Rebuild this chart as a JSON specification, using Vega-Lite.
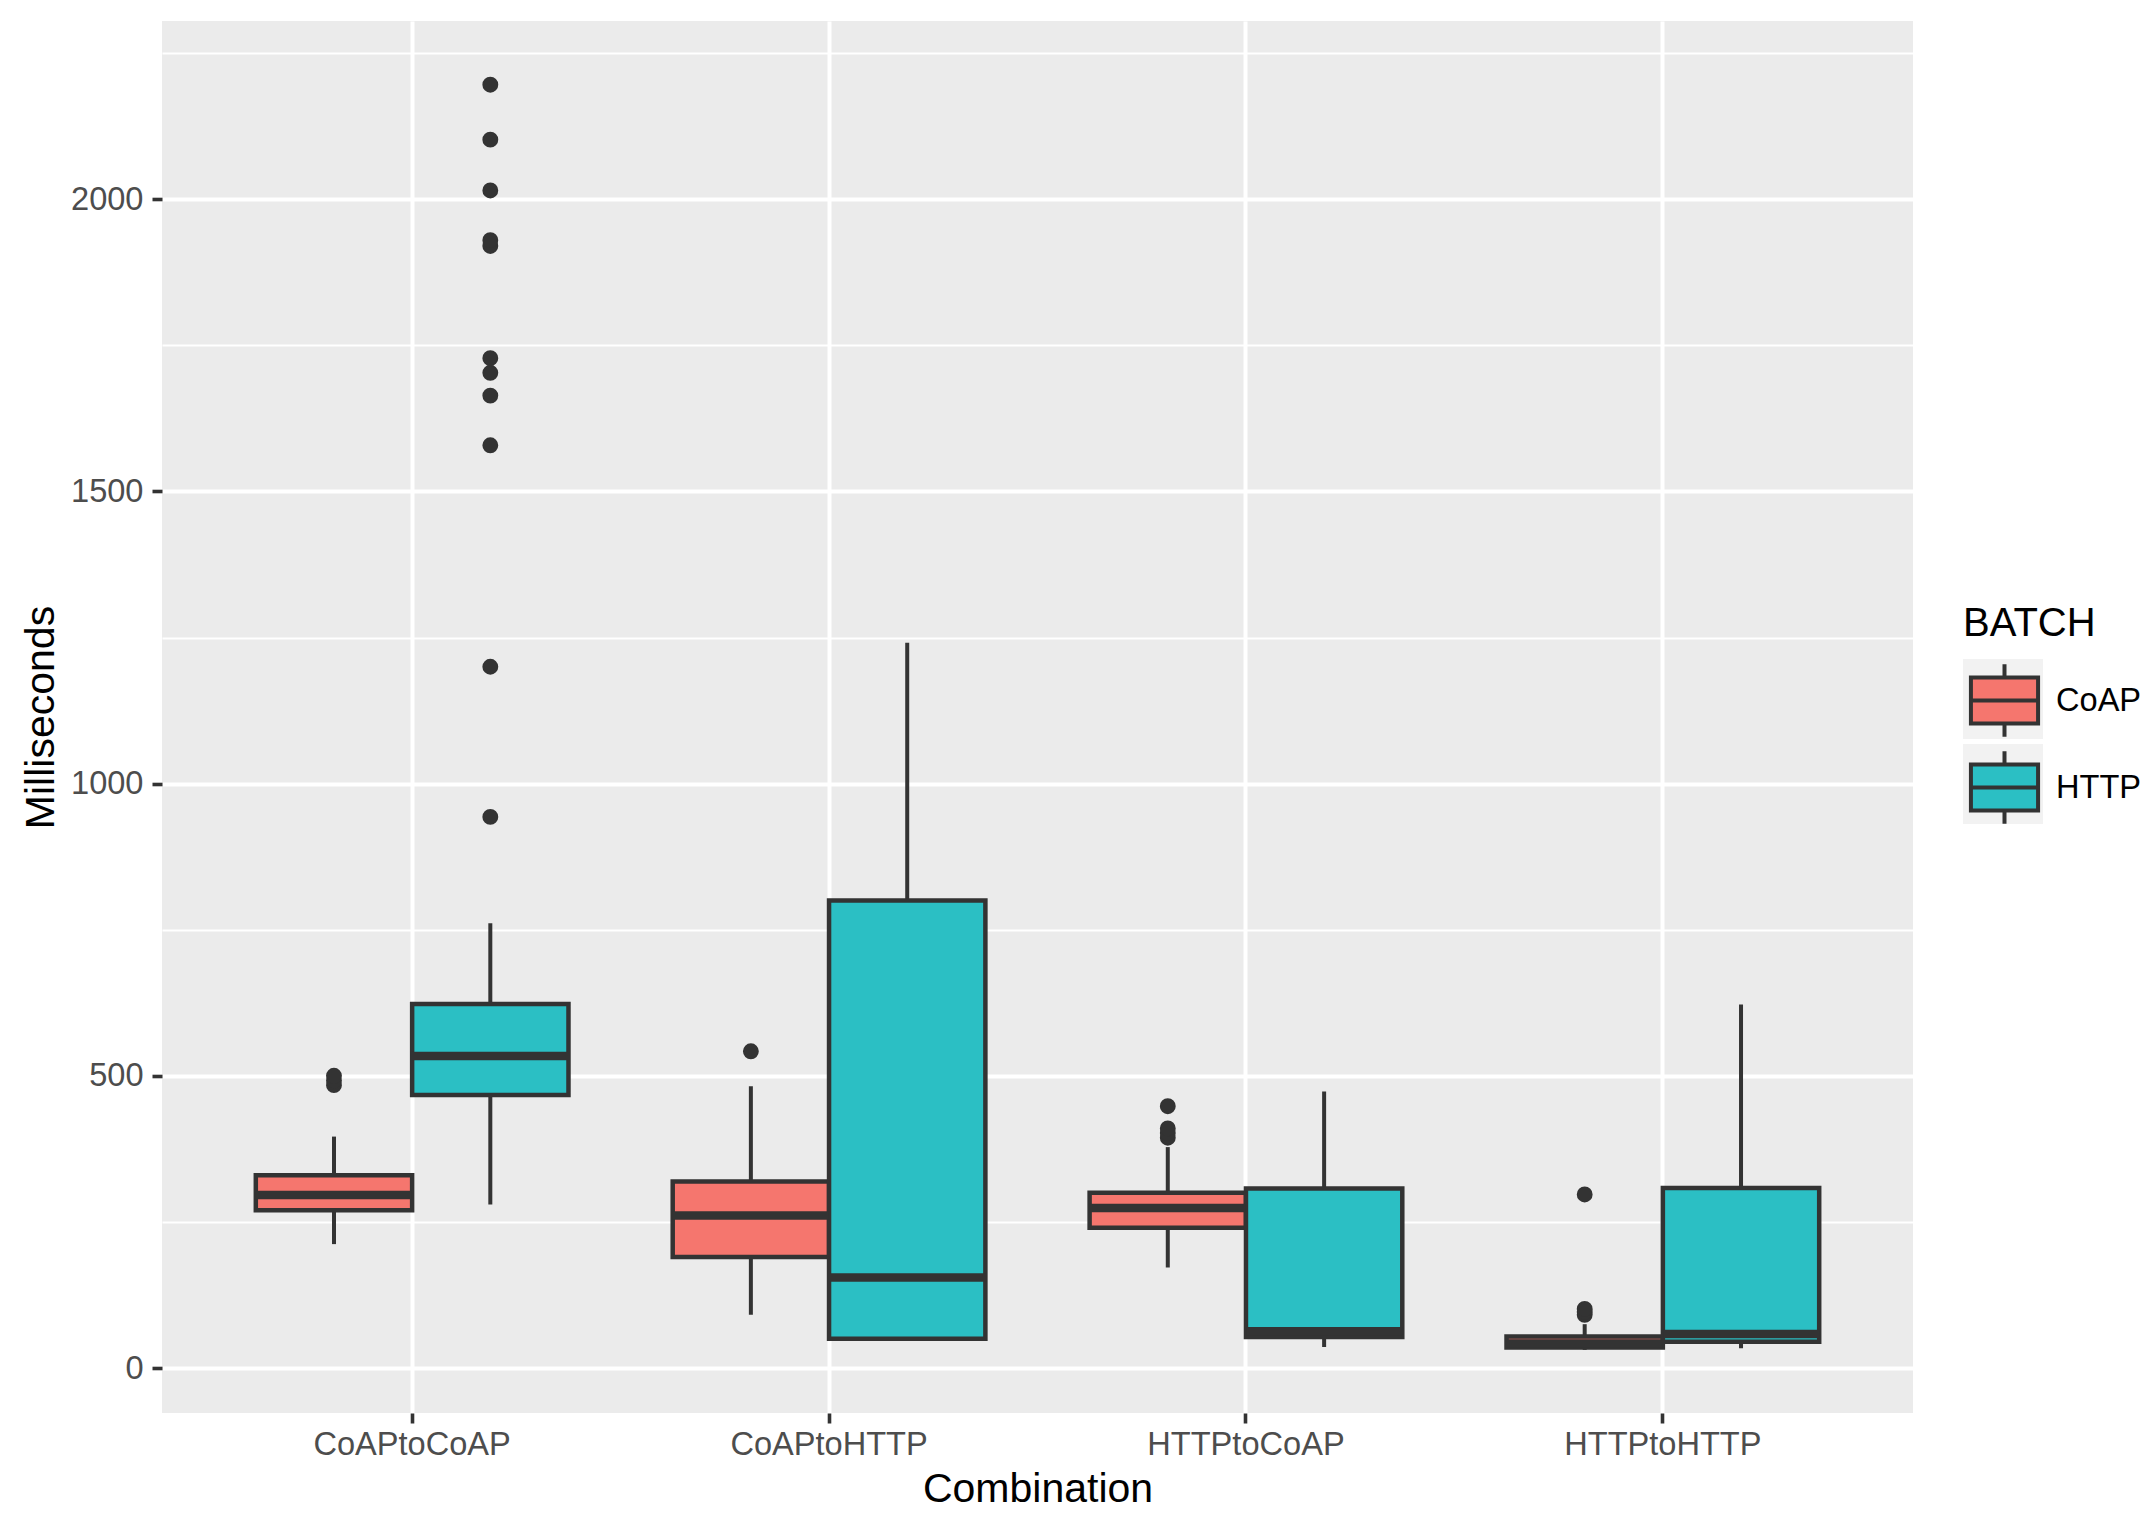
{
  "$schema": "https://vega.github.io/schema/vega-lite/v6.json",
  "width": 1751,
  "height": 1392,
  "autosize": {"type": "none"},
  "padding": {"left": 162, "top": 21, "right": 242, "bottom": 103},
  "background": "white",
  "config": {
    "font": "Liberation Sans",
    "view": {"fill": "#EBEBEB", "stroke": null}
  },
  "datasets": {
    "stats": [
      {"combination": "CoAPtoCoAP", "batch": "CoAP", "key": "CoAP", "lower": 212, "q1": 270, "median": 296, "q3": 330, "upper": 396},
      {"combination": "CoAPtoCoAP", "batch": "HTTP", "key": "HTTP", "lower": 280, "q1": 467, "median": 534, "q3": 623, "upper": 761},
      {"combination": "CoAPtoHTTP", "batch": "CoAP", "key": "CoAP", "lower": 91, "q1": 190, "median": 261, "q3": 319, "upper": 482},
      {"combination": "CoAPtoHTTP", "batch": "HTTP", "key": "HTTP", "lower": 48, "q1": 50, "median": 155, "q3": 800, "upper": 1241},
      {"combination": "HTTPtoCoAP", "batch": "CoAP", "key": "CoAP", "lower": 172, "q1": 240, "median": 274, "q3": 300, "upper": 378},
      {"combination": "HTTPtoCoAP", "batch": "HTTP", "key": "HTTP", "lower": 36, "q1": 53, "median": 63, "q3": 307, "upper": 473},
      {"combination": "HTTPtoHTTP", "batch": "CoAP", "key": "CoAP", "lower": 31, "q1": 35, "median": 42, "q3": 54, "upper": 75},
      {"combination": "HTTPtoHTTP", "batch": "HTTP", "key": "HTTP", "lower": 34, "q1": 45, "median": 58, "q3": 308, "upper": 622}
    ],
    "outliers": [
      {"combination": "CoAPtoCoAP", "batch": "CoAP", "value": 484},
      {"combination": "CoAPtoCoAP", "batch": "CoAP", "value": 492},
      {"combination": "CoAPtoCoAP", "batch": "CoAP", "value": 500},
      {"combination": "CoAPtoCoAP", "batch": "HTTP", "value": 943},
      {"combination": "CoAPtoCoAP", "batch": "HTTP", "value": 1200},
      {"combination": "CoAPtoCoAP", "batch": "HTTP", "value": 1579},
      {"combination": "CoAPtoCoAP", "batch": "HTTP", "value": 1664},
      {"combination": "CoAPtoCoAP", "batch": "HTTP", "value": 1703},
      {"combination": "CoAPtoCoAP", "batch": "HTTP", "value": 1728},
      {"combination": "CoAPtoCoAP", "batch": "HTTP", "value": 1920},
      {"combination": "CoAPtoCoAP", "batch": "HTTP", "value": 1930},
      {"combination": "CoAPtoCoAP", "batch": "HTTP", "value": 2015},
      {"combination": "CoAPtoCoAP", "batch": "HTTP", "value": 2102},
      {"combination": "CoAPtoCoAP", "batch": "HTTP", "value": 2196},
      {"combination": "CoAPtoHTTP", "batch": "CoAP", "value": 542},
      {"combination": "HTTPtoCoAP", "batch": "CoAP", "value": 394},
      {"combination": "HTTPtoCoAP", "batch": "CoAP", "value": 402},
      {"combination": "HTTPtoCoAP", "batch": "CoAP", "value": 410},
      {"combination": "HTTPtoCoAP", "batch": "CoAP", "value": 448},
      {"combination": "HTTPtoHTTP", "batch": "CoAP", "value": 91},
      {"combination": "HTTPtoHTTP", "batch": "CoAP", "value": 96},
      {"combination": "HTTPtoHTTP", "batch": "CoAP", "value": 101},
      {"combination": "HTTPtoHTTP", "batch": "CoAP", "value": 297}
    ]
  },
  "encoding": {
    "x": {
      "field": "combination",
      "type": "nominal",
      "sort": ["CoAPtoCoAP", "CoAPtoHTTP", "HTTPtoCoAP", "HTTPtoHTTP"],
      "scale": {"paddingInner": 0.25, "paddingOuter": 0.225},
      "axis": {
        "title": "Combination",
        "titleFontSize": 41,
        "titleFontWeight": "normal",
        "titleColor": "black",
        "titlePadding": 8,
        "labelFontSize": 32.6,
        "labelColor": "#4D4D4D",
        "labelAngle": 0,
        "labelPadding": 5.5,
        "labelLimit": 0,
        "tickColor": "#333333",
        "tickSize": 10,
        "tickWidth": 3.6,
        "domain": false,
        "grid": true,
        "gridColor": "white",
        "gridWidth": 4,
        "bandPosition": 0.5
      }
    },
    "xOffset": {
      "field": "batch",
      "type": "nominal",
      "sort": ["CoAP", "HTTP"],
      "scale": {"paddingInner": 0, "paddingOuter": 0}
    }
  },
  "layer": [
    {
      "data": {"name": "stats"},
      "mark": {"type": "point", "filled": true, "opacity": 0},
      "encoding": {
        "y": {
          "field": "median",
          "type": "quantitative",
          "axis": {
            "orient": "right",
            "values": [250, 750, 1250, 1750, 2250],
            "grid": true,
            "gridColor": "white",
            "gridWidth": 2,
            "labels": false,
            "ticks": false,
            "domain": false,
            "title": null
          }
        },
        "color": {
          "field": "key",
          "type": "nominal",
          "scale": {"range": ["#F2F2F2", "#F2F2F2"]},
          "legend": {
            "zindex": 0,
            "title": "BATCH",
            "orient": "none",
            "legendX": 1801,
            "legendY": 583,
            "symbolType": "square",
            "symbolSize": 6400,
            "symbolStrokeWidth": 0,
            "symbolOpacity": 1,
            "labelFontSize": 32.6,
            "labelColor": "transparent",
            "labelOffset": 14,
            "rowPadding": 5,
            "titleFontSize": 40,
            "titleFontWeight": "normal",
            "titleColor": "transparent",
            "titlePadding": 15
          }
        }
      }
    },
    {
      "data": {"name": "stats"},
      "mark": {"type": "rule", "color": "#333333", "strokeWidth": 4},
      "encoding": {
        "y": {
          "field": "lower",
          "type": "quantitative",
          "scale": {"domain": [-77, 2305], "nice": false, "zero": false},
          "axis": {
            "title": "Milliseconds",
            "titleFontSize": 41,
            "titleFontWeight": "normal",
            "titleColor": "black",
            "titlePadding": 8,
            "values": [0, 500, 1000, 1500, 2000],
            "format": "d",
            "labelFontSize": 32.6,
            "labelColor": "#4D4D4D",
            "labelPadding": 9,
            "tickColor": "#333333",
            "tickSize": 10,
            "tickWidth": 3.6,
            "domain": false,
            "grid": true,
            "gridColor": "white",
            "gridWidth": 4
          }
        },
        "y2": {"field": "upper"}
      }
    },
    {
      "data": {"name": "stats"},
      "mark": {"type": "bar", "stroke": "#333333", "strokeWidth": 4.5, "opacity": 1},
      "encoding": {
        "y": {"field": "q1", "type": "quantitative", "axis": null},
        "y2": {"field": "q3"},
        "fill": {
          "field": "batch",
          "type": "nominal",
          "scale": {"domain": ["CoAP", "HTTP"], "range": ["#F5766E", "#2BBFC4"]},
          "legend": {
            "zindex": 1,
            "title": "BATCH",
            "orient": "none",
            "legendX": 1801,
            "legendY": 583,
            "symbolType": "M-0.85,-0.58H0.85V0.58H-0.85ZM-0.85,0H0.85M0,-0.58V-0.92M0,0.58V0.92",
            "symbolSize": 6241,
            "symbolStrokeColor": "#333333",
            "symbolStrokeWidth": 4,
            "symbolOpacity": 1,
            "labelFontSize": 32.6,
            "labelColor": "black",
            "labelOffset": 10,
            "rowPadding": -2,
            "titleFontSize": 40,
            "titleFontWeight": "normal",
            "titleColor": "black",
            "titlePadding": 15
          }
        }
      }
    },
    {
      "data": {"name": "stats"},
      "mark": {"type": "tick", "color": "#333333", "thickness": 8.5, "size": 156, "opacity": 1},
      "encoding": {
        "y": {"field": "median", "type": "quantitative", "axis": null}
      }
    },
    {
      "data": {"name": "outliers"},
      "mark": {"type": "circle", "color": "#333333", "size": 252, "opacity": 1},
      "encoding": {
        "y": {"field": "value", "type": "quantitative", "axis": null}
      }
    }
  ],
  "resolve": {"axis": {"y": "independent"}}
}
